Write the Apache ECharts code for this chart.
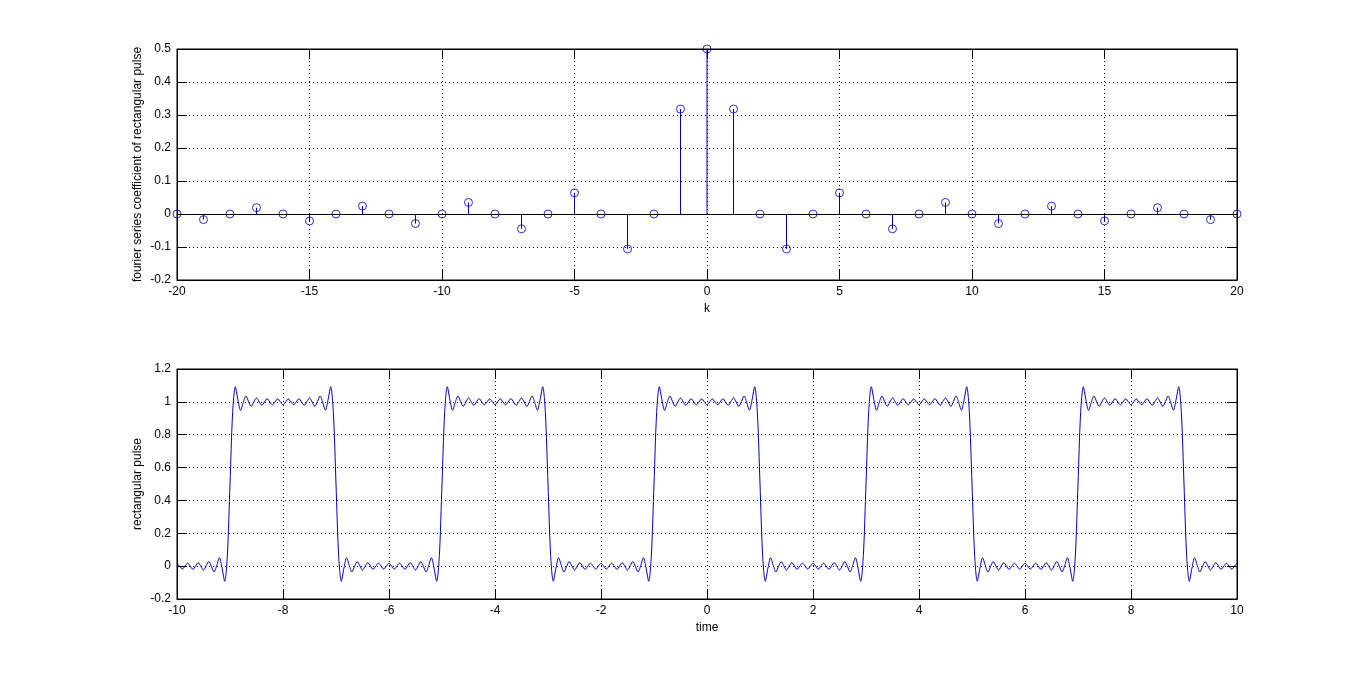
<!DOCTYPE html>
<html>
<head>
<meta charset="utf-8">
<title>fourier series of rectangular pulse</title>
<script src="https://cdn.jsdelivr.net/npm/echarts@6/dist/echarts.min.js"></script>
<style>
  html, body { margin: 0; padding: 0; background: #fff; }
  #chart { width: 1366px; height: 673px; }
</style>
</head>
<body>
<div id="chart"></div>
<script>
// 系数 (上图, stem)
const kValues = [-20, -19, -18, -17, -16, -15, -14, -13, -12, -11, -10, -9, -8, -7, -6, -5, -4, -3, -2, -1,
  0, 1, 2, 3, 4, 5, 6, 7, 8, 9, 10, 11, 12, 13, 14, 15, 16, 17, 18, 19, 20]
const coefValues = [0, -0.017, 0, 0.019, 0, -0.021, 0, 0.024, 0, -0.029, 0, 0.035, 0, -0.045, 0, 0.064, 0, -0.106, 0, 0.318,
  0.5, 0.318, 0, -0.106, 0, 0.064, 0, -0.045, 0, 0.035, 0, -0.029, 0, 0.024, 0, -0.021, 0, 0.019, 0, -0.017, 0]

// 重建的矩形脉冲 (下图), 每 0.05 一个采样, 每行 1 个时间单位
const timeStart = -10
const timeStep = 0.05
const pulseValues = [
  0.018, 0.000, -0.018, 0.000, 0.018, 0.000, -0.020, 0.001, 0.021, -0.001, -0.024, 0.002, 0.028, -0.002, -0.036, 0.005, 0.051, -0.012, -0.092, 0.064, // -10
  0.500, 0.936, 1.092, 1.012, 0.949, 0.996, 1.036, 1.002, 0.972, 0.999, 1.024, 1.001, 0.979, 0.999, 1.020, 1.000, 0.982, 1.000, 1.018, 1.000, // -9
  0.982, 1.000, 1.018, 1.000, 0.982, 1.000, 1.020, 0.999, 0.979, 1.001, 1.024, 0.999, 0.972, 1.002, 1.036, 0.996, 0.949, 1.012, 1.092, 0.936, // -8
  0.500, 0.064, -0.092, -0.012, 0.051, 0.005, -0.036, -0.002, 0.028, 0.002, -0.024, -0.001, 0.021, 0.001, -0.020, 0.000, 0.018, 0.000, -0.018, 0.000, // -7
  0.018, 0.000, -0.018, 0.000, 0.018, 0.000, -0.020, 0.001, 0.021, -0.001, -0.024, 0.002, 0.028, -0.002, -0.036, 0.005, 0.051, -0.012, -0.092, 0.064, // -6
  0.500, 0.936, 1.092, 1.012, 0.949, 0.996, 1.036, 1.002, 0.972, 0.999, 1.024, 1.001, 0.979, 0.999, 1.020, 1.000, 0.982, 1.000, 1.018, 1.000, // -5
  0.982, 1.000, 1.018, 1.000, 0.982, 1.000, 1.020, 0.999, 0.979, 1.001, 1.024, 0.999, 0.972, 1.002, 1.036, 0.996, 0.949, 1.012, 1.092, 0.936, // -4
  0.500, 0.064, -0.092, -0.012, 0.051, 0.005, -0.036, -0.002, 0.028, 0.002, -0.024, -0.001, 0.021, 0.001, -0.020, 0.000, 0.018, 0.000, -0.018, 0.000, // -3
  0.018, 0.000, -0.018, 0.000, 0.018, 0.000, -0.020, 0.001, 0.021, -0.001, -0.024, 0.002, 0.028, -0.002, -0.036, 0.005, 0.051, -0.012, -0.092, 0.064, // -2
  0.500, 0.936, 1.092, 1.012, 0.949, 0.996, 1.036, 1.002, 0.972, 0.999, 1.024, 1.001, 0.979, 0.999, 1.020, 1.000, 0.982, 1.000, 1.018, 1.000, // -1
  0.982, 1.000, 1.018, 1.000, 0.982, 1.000, 1.020, 0.999, 0.979, 1.001, 1.024, 0.999, 0.972, 1.002, 1.036, 0.996, 0.949, 1.012, 1.092, 0.936, // 0
  0.500, 0.064, -0.092, -0.012, 0.051, 0.005, -0.036, -0.002, 0.028, 0.002, -0.024, -0.001, 0.021, 0.001, -0.020, 0.000, 0.018, 0.000, -0.018, 0.000, // 1
  0.018, 0.000, -0.018, 0.000, 0.018, 0.000, -0.020, 0.001, 0.021, -0.001, -0.024, 0.002, 0.028, -0.002, -0.036, 0.005, 0.051, -0.012, -0.092, 0.064, // 2
  0.500, 0.936, 1.092, 1.012, 0.949, 0.996, 1.036, 1.002, 0.972, 0.999, 1.024, 1.001, 0.979, 0.999, 1.020, 1.000, 0.982, 1.000, 1.018, 1.000, // 3
  0.982, 1.000, 1.018, 1.000, 0.982, 1.000, 1.020, 0.999, 0.979, 1.001, 1.024, 0.999, 0.972, 1.002, 1.036, 0.996, 0.949, 1.012, 1.092, 0.936, // 4
  0.500, 0.064, -0.092, -0.012, 0.051, 0.005, -0.036, -0.002, 0.028, 0.002, -0.024, -0.001, 0.021, 0.001, -0.020, 0.000, 0.018, 0.000, -0.018, 0.000, // 5
  0.018, 0.000, -0.018, 0.000, 0.018, 0.000, -0.020, 0.001, 0.021, -0.001, -0.024, 0.002, 0.028, -0.002, -0.036, 0.005, 0.051, -0.012, -0.092, 0.064, // 6
  0.500, 0.936, 1.092, 1.012, 0.949, 0.996, 1.036, 1.002, 0.972, 0.999, 1.024, 1.001, 0.979, 0.999, 1.020, 1.000, 0.982, 1.000, 1.018, 1.000, // 7
  0.982, 1.000, 1.018, 1.000, 0.982, 1.000, 1.020, 0.999, 0.979, 1.001, 1.024, 0.999, 0.972, 1.002, 1.036, 0.996, 0.949, 1.012, 1.092, 0.936, // 8
  0.500, 0.064, -0.092, -0.012, 0.051, 0.005, -0.036, -0.002, 0.028, 0.002, -0.024, -0.001, 0.021, 0.001, -0.020, 0.000, 0.018, 0.000, -0.018, 0.000, // 9
  0.018 // 10
]

// 坐标轴范围
const kAxis = { min: -20, max: 20, interval: 5 }
const coefAxis = { min: -0.2, max: 0.5, interval: 0.1 }
const timeAxis = { min: -10, max: 10, interval: 2 }
const pulseAxis = { min: -0.2, max: 1.2, interval: 0.2 }

const blue = '#0000c0'
const font = 'Liberation Sans, Arial, sans-serif'

// 采样时间
const times = []
for (let i = 0; i < pulseValues.length; i++) {
  times.push(+(timeStart + i * timeStep).toFixed(2))
}

// matlab 风格的坐标轴: 刻度朝内, 虚点网格
function axis(range, gridIndex, position, name, nameGap) {
  const main = position === 'bottom' || position === 'left'
  return {
    type: 'value',
    gridIndex: gridIndex,
    position: position,
    min: range.min,
    max: range.max,
    interval: range.interval,
    name: main ? name : '',
    nameLocation: 'middle',
    nameGap: nameGap,
    nameMoveOverlap: false,
    nameTextStyle: { color: '#000', fontFamily: font, fontSize: 12 },
    axisLine: { show: true, onZero: false, lineStyle: { color: '#000', width: 1 } },
    axisTick: { show: true, inside: true, length: 10, lineStyle: { color: '#000', width: 1 } },
    axisLabel: { show: main, color: '#000', fontFamily: font, fontSize: 12, margin: 6 },
    splitLine: { show: main, lineStyle: { color: '#000', type: [1, 3], width: 1 } },
    z: 5
  }
}

const option = {
  animation: false,
  backgroundColor: '#fff',
  grid: [
    { left: 177, top: 49, width: 1060, height: 231, show: true, borderColor: '#000', borderWidth: 1 },
    { left: 177, top: 369, width: 1060, height: 230, show: true, borderColor: '#000', borderWidth: 1 }
  ],
  xAxis: [
    axis(kAxis, 0, 'bottom', 'k', 23),
    axis(kAxis, 0, 'top'),
    axis(timeAxis, 1, 'bottom', 'time', 23),
    axis(timeAxis, 1, 'top')
  ],
  yAxis: [
    axis(coefAxis, 0, 'left', 'fourier series coefficient of rectangular pulse', 33),
    axis(coefAxis, 0, 'right'),
    axis(pulseAxis, 1, 'left', 'rectangular pulse', 33),
    axis(pulseAxis, 1, 'right')
  ],
  series: [{
    // stem 竖线
    type: 'custom',
    xAxisIndex: 0,
    yAxisIndex: 0,
    data: kValues.map((k, i) => [k, coefValues[i]]),
    renderItem: (params, api) => {
      const p0 = api.coord([api.value(0), 0])
      const p1 = api.coord([api.value(0), api.value(1)])
      return {
        type: 'line',
        shape: { x1: p0[0], y1: p0[1], x2: p1[0], y2: p1[1] },
        style: { stroke: blue, lineWidth: 1 }
      }
    }
  }, {
    // stem 圆圈 + 基线
    type: 'scatter',
    xAxisIndex: 0,
    yAxisIndex: 0,
    symbol: 'circle',
    symbolSize: 8,
    itemStyle: { color: 'rgba(0,0,0,0)', borderColor: blue, borderWidth: 1 },
    data: kValues.map((k, i) => [k, coefValues[i]]),
    markLine: {
      silent: true,
      symbol: ['none', 'none'],
      label: { show: false },
      lineStyle: { color: '#000', type: 'solid', width: 1 },
      data: [{ yAxis: 0 }]
    }
  }, {
    type: 'line',
    xAxisIndex: 2,
    yAxisIndex: 2,
    showSymbol: false,
    smooth: 0.3,
    lineStyle: { color: blue, width: 1 },
    data: times.map((t, i) => [t, pulseValues[i]])
  }]
}

const chart = echarts.init(document.getElementById('chart'))
chart.setOption(option)
</script>
</body>
</html>
